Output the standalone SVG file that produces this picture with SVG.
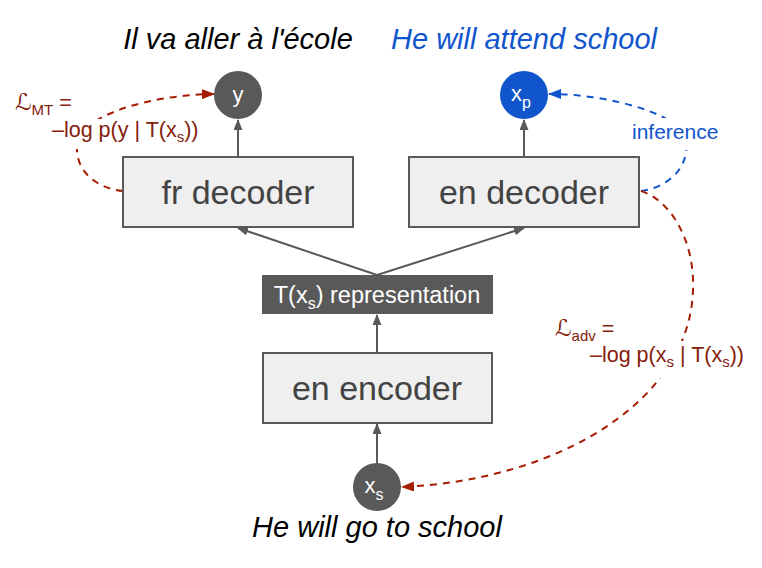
<svg xmlns="http://www.w3.org/2000/svg" width="762" height="568" viewBox="0 0 762 568">
<defs>
<marker id="ag" markerWidth="11" markerHeight="9" refX="10" refY="4.5" orient="auto" markerUnits="userSpaceOnUse"><path d="M0,0 L11,4.5 L0,9 z" fill="#595959"/></marker>
<marker id="ar" markerWidth="13" markerHeight="10" refX="12" refY="5" orient="auto" markerUnits="userSpaceOnUse"><path d="M0,0 L13,5 L0,10 z" fill="#a61c00"/></marker>
<marker id="ab" markerWidth="13" markerHeight="10" refX="12" refY="5" orient="auto" markerUnits="userSpaceOnUse"><path d="M0,0 L13,5 L0,10 z" fill="#1155cc"/></marker>
<mask id="textgap" maskUnits="userSpaceOnUse" x="0" y="0" width="762" height="568">
<rect x="0" y="0" width="762" height="568" fill="#fff"/>
<rect x="10" y="88" width="66" height="30" fill="#000"/>
<rect x="48" y="119" width="154" height="30" fill="#000"/>
<rect x="628" y="118" width="96" height="32" fill="#000"/>
<rect x="552" y="314" width="64" height="30" fill="#000"/>
<rect x="586" y="341" width="162" height="37" fill="#000"/>
</mask>
</defs>
<style>
text{font-family:"Liberation Sans",Arial,sans-serif}
.box{fill:#efefef;stroke:#595959;stroke-width:2}
.lbl{fill:#434343;font-size:34px;text-anchor:middle}
.circ{fill:#595959}
.ctext{fill:#ffffff;font-size:22px;text-anchor:middle}
.title{font-size:29px;font-style:italic;text-anchor:middle}
.g{stroke:#595959;stroke-width:2;fill:none;marker-end:url(#ag)}
.rd{stroke:#a61c00;stroke-width:2;fill:none;stroke-dasharray:7,6;marker-end:url(#ar)}
.bd{stroke:#1155cc;stroke-width:2;fill:none;stroke-dasharray:7,6;marker-end:url(#ab)}
.loss{fill:#85200c;font-size:21.5px}
.inf{fill:#1155cc;font-size:21px}
.scr{font-family:"DejaVu Sans",sans-serif;font-style:italic}
</style>
<rect width="762" height="568" fill="#fff"/>
<g id="connectors">
<line class="g" x1="377" y1="463" x2="377" y2="424"/>
<line class="g" x1="377" y1="353" x2="377" y2="315"/>
<line class="g" x1="377" y1="275" x2="238" y2="228"/>
<line class="g" x1="377" y1="275" x2="524" y2="228"/>
<line class="g" x1="238" y1="157" x2="238" y2="120"/>
<line class="g" x1="524" y1="157" x2="524" y2="120"/>
<g mask="url(#textgap)">
<path class="rd" d="M123,191 C95,188 75,170 77,145 C80,115 150,95 214,94"/>
<path class="bd" d="M641,191 C665,188 690,170 686,140 C683,115 610,94 549,94"/>
<path class="rd" d="M641,191 C670,200 695,240 693,290 C690,400 560,480 402,487"/>
</g>
</g>
<g id="title-fr"><text class="title" x="238" y="49" fill="#000">Il va aller à l'école</text></g>
<g id="title-en"><text class="title" x="524" y="49" fill="#1155cc">He will attend school</text></g>
<g id="title-src"><text class="title" x="377" y="537" fill="#000">He will go to school</text></g>
<g id="y"><circle class="circ" cx="238" cy="95" r="24"/><text class="ctext" x="238" y="102">y</text></g>
<g id="xp"><circle cx="524" cy="95" r="24" fill="#1155cc"/><text class="ctext" x="521" y="101">x<tspan font-size="16" dy="7">p</tspan></text></g>
<g id="fr-decoder"><rect class="box" x="123" y="157" width="230" height="70"/><text class="lbl" x="238" y="204">fr decoder</text></g>
<g id="en-decoder"><rect class="box" x="409" y="157" width="230" height="70"/><text class="lbl" x="524" y="204">en decoder</text></g>
<g id="representation"><rect x="262" y="275" width="231" height="39" fill="#595959"/><text x="377" y="303" fill="#fff" font-size="23.5" text-anchor="middle">T(x<tspan font-size="16" dy="6">s</tspan><tspan dy="-6">) representation</tspan></text></g>
<g id="en-encoder"><rect class="box" x="263" y="353" width="229" height="70"/><text class="lbl" x="377" y="400">en encoder</text></g>
<g id="xs"><circle class="circ" cx="377" cy="487" r="24"/><text class="ctext" x="374" y="493">x<tspan font-size="16" dy="7">s</tspan></text></g>
<g id="loss-mt">
<text class="loss" x="15" y="110"><tspan class="scr" font-size="23">ℒ</tspan><tspan font-size="15" dy="5">MT</tspan><tspan dy="-5"> =</tspan></text>
<text class="loss" x="52" y="137">–log p(y | T(x<tspan font-size="15" dy="5">s</tspan><tspan dy="-5">))</tspan></text>
</g>
<g id="inference"><text class="inf" x="632" y="139">inference</text></g>
<g id="loss-adv">
<text class="loss" x="555" y="336"><tspan class="scr" font-size="23">ℒ</tspan><tspan font-size="15" dy="5">adv</tspan><tspan dy="-5"> =</tspan></text>
<text class="loss" x="590" y="362">–log p(x<tspan font-size="15" dy="5">s</tspan><tspan dy="-5"> | T(x</tspan><tspan font-size="15" dy="5">s</tspan><tspan dy="-5">))</tspan></text>
</g>
</svg>
